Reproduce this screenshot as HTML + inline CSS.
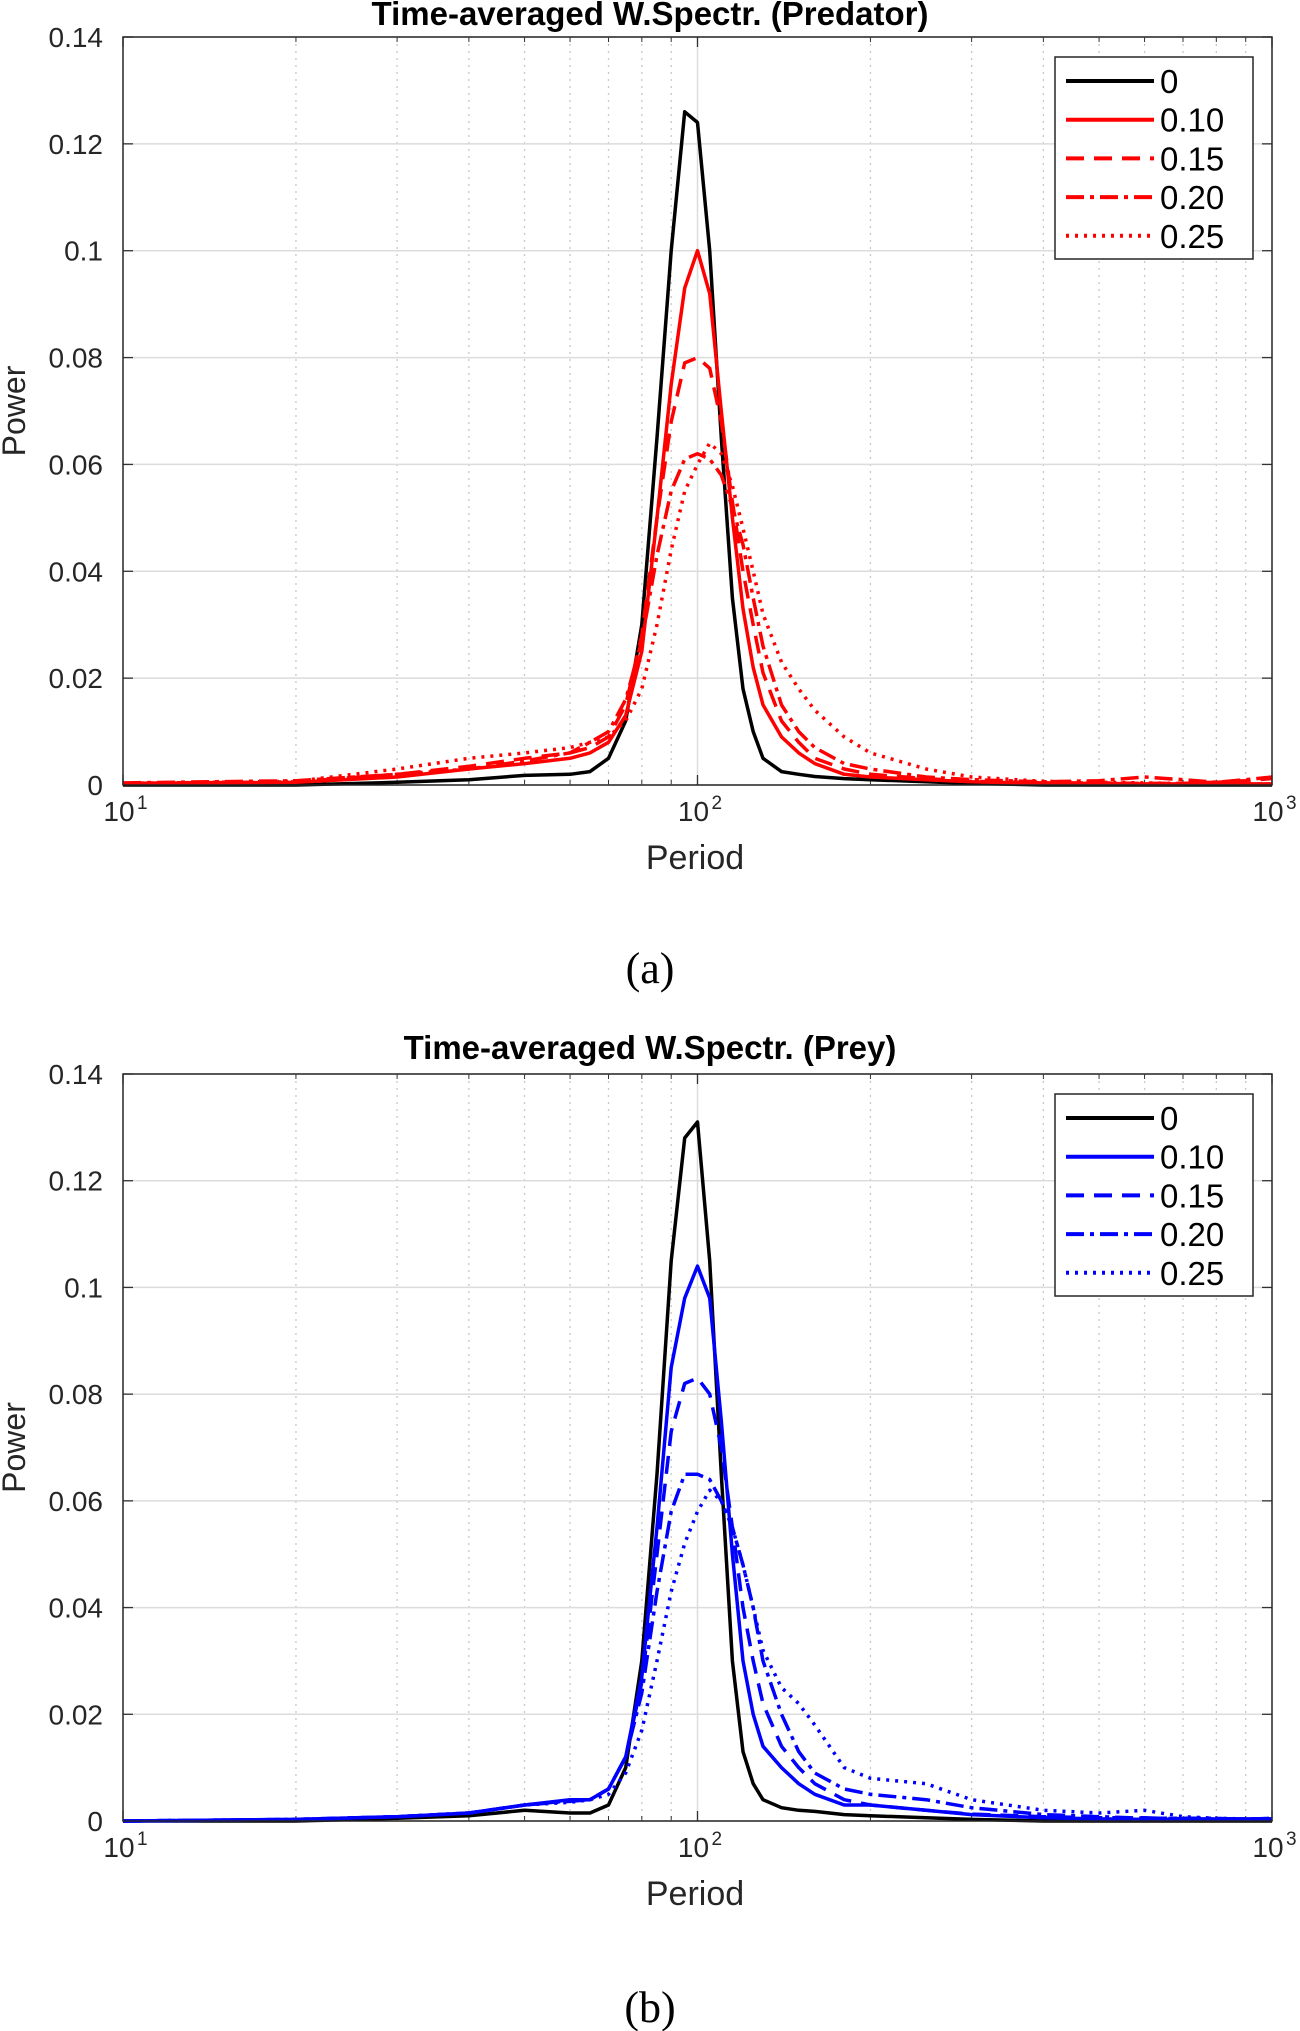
<!DOCTYPE html>
<html><head><meta charset="utf-8"><style>
body{margin:0;background:#fff;}
svg{display:block;font-family:"Liberation Sans",sans-serif;}
</style></head><body>
<svg id="chart" width="1300" height="2031" viewBox="0 0 1300 2031"></svg>
<script>
const periods=[10,20,30,40,50,60,65,70,75,80,85,90,95,100,105,110,115,120,125,130,140,150,160,180,200,250,300,400,500,600,700,800,900,1000];
const legendLabels=["0","0.10","0.15","0.20","0.25"];
const yTicks=[0,0.02,0.04,0.06,0.08,0.1,0.12,0.14];
const yTickLabels=["0","0.02","0.04","0.06","0.08","0.1","0.12","0.14"];
const predBlack=[0,0,0.0005,0.001,0.0018,0.002,0.0025,0.005,0.012,0.03,0.065,0.1,0.126,0.124,0.1,0.065,0.035,0.018,0.01,0.005,0.0025,0.002,0.0016,0.0012,0.001,0.0006,0.0003,0,0,0,0,0,0,0];
const pred010=[0.0003,0.0005,0.0015,0.003,0.004,0.005,0.006,0.008,0.013,0.025,0.05,0.075,0.093,0.1,0.092,0.07,0.05,0.033,0.022,0.015,0.009,0.006,0.004,0.002,0.0015,0.001,0.0006,0.0003,0.0003,0.0002,0.0002,0.0003,0.0002,0.0002];
const pred015=[0.0003,0.0006,0.002,0.0035,0.005,0.006,0.007,0.009,0.015,0.028,0.05,0.068,0.079,0.08,0.078,0.068,0.053,0.04,0.03,0.021,0.012,0.008,0.005,0.003,0.002,0.0012,0.0007,0.0004,0.0004,0.0003,0.0003,0.0005,0.0008,0.0012];
const pred020=[0.0004,0.0008,0.002,0.003,0.0045,0.006,0.008,0.01,0.016,0.027,0.043,0.055,0.061,0.062,0.061,0.058,0.052,0.045,0.035,0.026,0.015,0.01,0.007,0.004,0.003,0.0015,0.001,0.0006,0.0008,0.0015,0.001,0.0005,0.001,0.0015];
const pred025=[0.0003,0.0007,0.003,0.005,0.006,0.007,0.008,0.009,0.012,0.018,0.03,0.044,0.055,0.06,0.064,0.062,0.056,0.048,0.04,0.032,0.023,0.018,0.014,0.009,0.006,0.003,0.0015,0.0007,0.0005,0.0004,0.0003,0.0003,0.0002,0.0002];
const preyBlack=[0,0,0.0005,0.001,0.002,0.0015,0.0015,0.003,0.01,0.03,0.065,0.105,0.128,0.131,0.105,0.065,0.03,0.013,0.007,0.004,0.0025,0.002,0.0018,0.0012,0.001,0.0006,0.0003,0,0,0,0,0,0,0];
const prey010=[0,0.0003,0.0008,0.0015,0.003,0.004,0.004,0.006,0.012,0.027,0.055,0.085,0.098,0.104,0.098,0.075,0.05,0.03,0.02,0.014,0.01,0.007,0.005,0.003,0.003,0.002,0.0012,0.0006,0.0004,0.0003,0.0003,0.0003,0.0004,0.0004];
const prey015=[0,0.0003,0.0008,0.0015,0.003,0.0038,0.004,0.006,0.012,0.026,0.05,0.073,0.082,0.083,0.08,0.07,0.055,0.04,0.03,0.022,0.014,0.01,0.007,0.004,0.003,0.002,0.0013,0.0008,0.0006,0.0006,0.0004,0.0004,0.0004,0.0004];
const prey020=[0,0.0003,0.0008,0.0015,0.003,0.0037,0.004,0.006,0.012,0.024,0.043,0.058,0.065,0.065,0.064,0.06,0.055,0.048,0.04,0.03,0.02,0.013,0.009,0.006,0.005,0.004,0.0025,0.0012,0.0008,0.0005,0.0005,0.0005,0.0003,0.0005];
const prey025=[0,0.0003,0.0008,0.0015,0.003,0.0035,0.004,0.005,0.009,0.017,0.03,0.043,0.052,0.058,0.062,0.06,0.055,0.048,0.04,0.032,0.025,0.022,0.018,0.01,0.008,0.007,0.004,0.002,0.0015,0.002,0.0008,0.0005,0.0004,0.0003];

const NS="http://www.w3.org/2000/svg";
const svg=document.getElementById('chart');
function mk(tag,attrs,parent){const e=document.createElementNS(NS,tag);for(const k in attrs)e.setAttribute(k,attrs[k]);(parent||svg).appendChild(e);return e;}
const dashes=[null,null,"18 10","18 6 4 6","3 6"];

function panel(cfg){
  const L=123,R=1272,T=cfg.top,B=cfg.bottom;
  const g=mk('g',{});
  
  
  const xs=p=>L+(Math.log10(p)-1)/2*(R-L);
  const ys=v=>B-v/0.14*(B-T);
  for(let d=1;d<=2;d++)for(let m=2;m<=9;m++){
    const x=xs(m*Math.pow(10,d));
    const l=mk('line',{x1:x,x2:x,y1:T,y2:B,stroke:'#c8c8c8','stroke-width':1.3,'stroke-dasharray':'2 5'},g);
    
    mk('line',{x1:x,x2:x,y1:B,y2:B-5,stroke:'#333','stroke-width':1},g);
    mk('line',{x1:x,x2:x,y1:T,y2:T+5,stroke:'#333','stroke-width':1},g);
  }
  mk('line',{x1:xs(100),x2:xs(100),y1:T,y2:B,stroke:'#dcdcdc','stroke-width':1.5},g);
  yTicks.forEach((v,i)=>{
    const y=ys(v);
    const gl=mk('line',{x1:L,x2:R,y1:y,y2:y,stroke:'#dcdcdc','stroke-width':1.5},g);
    
    mk('line',{x1:L,x2:L+10,y1:y,y2:y,stroke:'#333','stroke-width':1.3},g);
    mk('line',{x1:R,x2:R-10,y1:y,y2:y,stroke:'#333','stroke-width':1.3},g);
    const t=mk('text',{x:L-20,y:y+10,'text-anchor':'end','font-size':28,fill:'#262626'},g);
    t.textContent=yTickLabels[i];
    
  });
  [1,2,3].forEach(e=>{
    const x=xs(Math.pow(10,e));
    mk('line',{x1:x,x2:x,y1:B,y2:B-10,stroke:'#333','stroke-width':1.3},g);
    mk('line',{x1:x,x2:x,y1:T,y2:T+10,stroke:'#333','stroke-width':1.3},g);
    const t=mk('text',{x:x-4,y:B+36,'text-anchor':'middle','font-size':28,fill:'#262626'},g);
    t.textContent='10';
    
    const s=mk('text',{x:x+14,y:B+24,'font-size':19,fill:'#262626'},g);s.textContent=String(e);
  });
  cfg.series.forEach((vals,i)=>{
    const pts=periods.map((p,j)=>xs(p).toFixed(1)+','+ys(vals[j]).toFixed(1)).join(' ');
    const a={points:pts,fill:'none',stroke:i===0?'#000':cfg.color,'stroke-width':3.5,'stroke-linejoin':'round'};
    if(dashes[i])a['stroke-dasharray']=dashes[i];
    const pl=mk('polyline',a,g);
    
    
  });
  const box=mk('rect',{x:L,y:T,width:R-L,height:B-T,fill:'none',stroke:'#262626','stroke-width':1.5},g);
  
  const tt=mk('text',{x:650,y:cfg.titleY,'text-anchor':'middle','font-size':33,'font-weight':'bold',fill:'#000'},g);
  tt.textContent=cfg.title;
  const xl=mk('text',{x:695,y:B+84,'text-anchor':'middle','font-size':34,fill:'#262626'},g);
  xl.textContent='Period';
  const yl=mk('text',{x:0,y:0,'text-anchor':'middle','font-size':32,fill:'#262626',transform:`translate(25,${(T+B)/2}) rotate(-90)`},g);
  yl.textContent='Power';
  const lg=mk('g',{},g);
  
  const LT=T+20;
  mk('rect',{x:1055,y:LT,width:198,height:202,fill:'#fff',stroke:'#262626','stroke-width':1.5},lg);
  legendLabels.forEach((lab,i)=>{
    const y=LT+24+i*38.7;
    const a={x1:1066,x2:1154,y1:y,y2:y,stroke:i===0?'#000':cfg.color,'stroke-width':4};
    if(dashes[i])a['stroke-dasharray']=dashes[i];
    const ln=mk('line',a,lg);
    
    const t=mk('text',{x:1160,y:y+12,'font-size':33,fill:'#000'},lg);
    t.textContent=lab;
  });
  const cap=mk('text',{x:650,y:cfg.capY,'text-anchor':'middle','font-size':44,'font-family':'Liberation Serif, serif',fill:'#000'},g);
  cap.textContent=cfg.cap;
}
panel({name:'predator-chart',top:37,bottom:785,titleY:25,title:'Time-averaged W.Spectr. (Predator)',color:'#ff0000',series:[predBlack,pred010,pred015,pred020,pred025],cap:'(a)',capY:983});
panel({name:'prey-chart',top:1074,bottom:1821,titleY:1059,title:'Time-averaged W.Spectr. (Prey)',color:'#0000ff',series:[preyBlack,prey010,prey015,prey020,prey025],cap:'(b)',capY:2022});
</script>
</body></html>
